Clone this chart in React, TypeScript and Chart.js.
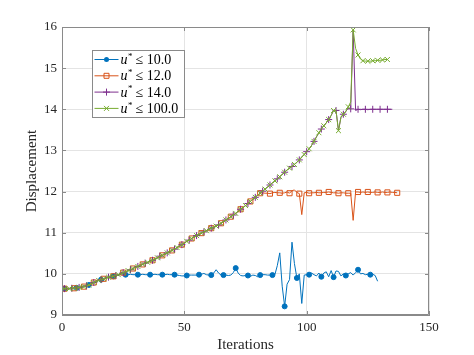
import React, { useEffect, useRef } from 'react';
import { Chart, registerables } from 'chart.js';

Chart.register(...registerables);

// ---- data ----
const xTickValues = [0, 50, 100, 150];
const yTickValues = [9, 10, 11, 12, 13, 14, 15, 16];
const thresholds = ['10.0', '12.0', '14.0', '100.0'];

// shared trajectory, iterations 0..118
const baseValues = [
  9.65, 9.64, 9.64, 9.64, 9.65, 9.65, 9.66, 9.67, 9.68, 9.69,
  9.71, 9.73, 9.76, 9.79, 9.82, 9.84, 9.86, 9.88, 9.90, 9.92,
  9.93, 9.94, 9.96, 9.98, 10.00, 10.03, 10.05, 10.08, 10.10, 10.13,
  10.16, 10.18, 10.21, 10.23, 10.26, 10.28, 10.31, 10.33, 10.36, 10.39,
  10.43, 10.45, 10.48, 10.51, 10.54, 10.57, 10.60, 10.64, 10.67, 10.71,
  10.75, 10.79, 10.82, 10.86, 10.90, 10.93, 10.96, 10.99, 11.02, 11.05,
  11.08, 11.11, 11.13, 11.16, 11.19, 11.23, 11.27, 11.31, 11.35, 11.39,
  11.43, 11.47, 11.52, 11.57, 11.61, 11.66, 11.71, 11.76, 11.81, 11.86,
  11.91, 11.96, 12.01, 12.06, 12.11, 12.16, 12.21, 12.26, 12.31, 12.36,
  12.42, 12.47, 12.53, 12.57, 12.61, 12.66, 12.71, 12.77, 12.84, 12.90,
  12.97, 13.04, 13.12, 13.22, 13.33, 13.43, 13.52, 13.60, 13.67, 13.75,
  13.85, 13.97, 13.97, 13.48, 13.80, 13.88, 13.95, 14.06, 14.18,
];

// u* <= 10.0 after it leaves the shared path, iterations 25..129
const blueTail = [
  10.00, 9.98, 9.98, 9.99, 9.98, 9.98, 9.98, 9.98, 9.99, 9.98,
  9.98, 9.98, 9.98, 9.99, 9.98, 9.98, 9.98, 9.98, 9.99, 9.98,
  9.98, 9.98, 9.97, 9.96, 9.95, 9.95, 9.96, 9.97, 9.97, 9.97,
  9.97, 9.98, 9.99, 10.01, 9.98, 9.97, 9.97, 10.02, 10.10, 10.02,
  9.97, 9.97, 9.97, 9.96, 9.97, 10.03, 10.14, 10.02, 9.96, 9.95,
  9.96, 9.96, 9.94, 9.97, 9.96, 9.93, 9.97, 9.98, 9.98, 9.97,
  9.97, 9.97, 9.98, 10.20, 10.51, 9.70, 9.21, 9.75, 9.86, 10.77,
  10.25, 9.90, 10.00, 9.28, 9.97, 9.98, 9.98, 10.02, 9.98, 9.95,
  10.02, 9.93, 10.02, 10.05, 9.93, 10.08, 9.92, 10.07, 10.06, 9.95,
  10.00, 9.96, 10.00, 10.03, 9.97, 10.03, 10.10, 10.00, 10.01, 9.98,
  9.99, 9.98, 9.99, 9.96, 9.82,
];

// u* <= 12.0, iterations 82..137
const orangeTail = [
  11.97, 11.96, 11.96, 11.95, 11.97, 11.98, 11.97, 11.97, 11.96, 11.97,
  11.99, 11.96, 12.02, 12.04, 11.98, 11.95, 11.44, 11.97, 11.98, 11.96,
  11.97, 11.97, 11.98, 11.97, 11.97, 11.98, 11.98, 11.99, 11.98, 11.97,
  11.97, 11.96, 11.97, 11.97, 11.96, 11.96, 11.96, 11.30, 11.99, 11.99,
  11.98, 11.99, 11.98, 11.99, 11.98, 11.98, 11.99, 11.98, 11.98, 11.99,
  11.98, 11.98, 11.99, 11.98, 11.98, 11.97,
];

// u* <= 14.0, iterations 117..135
const purpleTail = [
  14.03, 14.01, 15.93, 13.97, 14.00, 13.99, 14.00, 14.00, 13.99, 14.00,
  14.00, 14.00, 14.00, 14.00, 14.00, 14.00, 14.00, 14.00, 14.00,
];

// u* <= 100.0, iterations 119..133
const greenTail = [
  15.93, 15.48, 15.32, 15.22, 15.18, 15.17, 15.17, 15.17, 15.18, 15.18,
  15.19, 15.19, 15.20, 15.21, 15.21,
];

const blueValues = [...baseValues.slice(0, 25), ...blueTail];
const orangeValues = [...baseValues.slice(0, 82), ...orangeTail];
const purpleValues = [...baseValues.slice(0, 117), ...purpleTail];
const greenValues = [...baseValues.slice(0, 119), ...greenTail];

const toPoints = (vals: number[]) => vals.map((y, i) => ({ x: i, y }));

const COLORS = ['#0072BD', '#D95319', '#7E2F8E', '#77AC30'];
const SERIF = '"Liberation Serif", "DejaVu Serif", serif';

function drawMarker(ctx: CanvasRenderingContext2D, kind: number, x: number, y: number, color: string) {
  ctx.save();
  ctx.strokeStyle = color;
  ctx.fillStyle = color;
  ctx.lineWidth = 1;
  ctx.beginPath();
  if (kind === 0) {
    ctx.arc(x, y, 2.5, 0, Math.PI * 2);
    ctx.fill();
  } else if (kind === 1) {
    ctx.rect(x - 2.5, y - 2.5, 5, 5);
    ctx.stroke();
  } else if (kind === 2) {
    ctx.moveTo(x - 3.5, y); ctx.lineTo(x + 3.5, y);
    ctx.moveTo(x, y - 3.5); ctx.lineTo(x, y + 3.5);
    ctx.stroke();
  } else {
    ctx.moveTo(x - 2.5, y - 2.5); ctx.lineTo(x + 2.5, y + 2.5);
    ctx.moveTo(x - 2.5, y + 2.5); ctx.lineTo(x + 2.5, y - 2.5);
    ctx.stroke();
  }
  ctx.restore();
}

const framePlugin = {
  id: 'frameAndLegend',
  afterDraw(chart: any) {
    const { ctx, chartArea } = chart;
    const { left, right, top, bottom } = chartArea;
    const xs = chart.scales.x;
    const ys = chart.scales.y;
    ctx.save();
    ctx.strokeStyle = '#8a8a8a';
    ctx.lineWidth = 1;
    ctx.beginPath();
    ctx.rect(left + 0.5, top + 0.5, right - left - 1, bottom - top - 1);
    ctx.stroke();
    ctx.beginPath();
    ys.ticks.forEach((t: any) => {
      const py = Math.round(ys.getPixelForValue(t.value)) + 0.5;
      ctx.moveTo(left, py); ctx.lineTo(left + 4, py);
      ctx.moveTo(right, py); ctx.lineTo(right - 4, py);
    });
    xs.ticks.forEach((t: any) => {
      const px = Math.round(xs.getPixelForValue(t.value)) + 0.5;
      ctx.moveTo(px, bottom); ctx.lineTo(px, bottom - 4);
      ctx.moveTo(px, top); ctx.lineTo(px, top + 4);
    });
    ctx.stroke();

    // legend
    const bx = left + 30.5;
    const by = top + 23.5;
    const bw = 92;
    const bh = 67;
    ctx.fillStyle = '#ffffff';
    ctx.fillRect(bx, by, bw, bh);
    ctx.strokeStyle = '#8a8a8a';
    ctx.strokeRect(bx, by, bw, bh);
    thresholds.forEach((thr, i) => {
      const cy = by + 9 + i * 16.3;
      const color = COLORS[i];
      ctx.strokeStyle = color;
      ctx.lineWidth = 1;
      ctx.beginPath();
      ctx.moveTo(bx + 2, cy);
      ctx.lineTo(bx + 26, cy);
      ctx.stroke();
      drawMarker(ctx, i, bx + 14, cy, color);
      ctx.fillStyle = '#000000';
      ctx.textBaseline = 'middle';
      ctx.textAlign = 'left';
      let tx = bx + 28;
      ctx.font = `italic 14px ${SERIF}`;
      ctx.fillText('u', tx, cy + 1);
      tx += ctx.measureText('u').width + 0.5;
      ctx.font = `9px ${SERIF}`;
      ctx.fillText('*', tx, cy - 3);
      tx += ctx.measureText('*').width + 3;
      ctx.font = `14px ${SERIF}`;
      ctx.fillText('≤ ' + thr, tx, cy + 1);
    });
    ctx.restore();
  },
};

export default function App() {
  const canvasRef = useRef<HTMLCanvasElement | null>(null);

  useEffect(() => {
    const canvas = canvasRef.current;
    if (!canvas) return;
    const mk = (
      label: string,
      vals: number[],
      color: string,
      style: any,
      radius: number,
      every: number,
      filled: boolean,
      order: number,
    ) => ({
      label,
      data: toPoints(vals),
      borderColor: color,
      backgroundColor: filled ? color : 'rgba(0,0,0,0)',
      borderWidth: 1,
      pointStyle: style,
      pointRadius: (c: any) => (c.dataIndex % every === 1 ? radius : 0),
      pointBorderWidth: 1,
      pointBorderColor: color,
      pointBackgroundColor: filled ? color : 'rgba(0,0,0,0)',
      pointHoverRadius: 0,
      tension: 0,
      order,
    });

    const chart = new Chart(canvas, {
      type: 'line',
      data: {
        datasets: [
          mk('u* ≤ 10.0', blueValues, COLORS[0], 'circle', 2.5, 5, true, 3),
          mk('u* ≤ 12.0', orangeValues, COLORS[1], 'rect', 3.6, 4, false, 2),
          mk('u* ≤ 14.0', purpleValues, COLORS[2], 'cross', 3.5, 3, false, 1),
          mk('u* ≤ 100.0', greenValues, COLORS[3], 'crossRot', 3.5, 2, false, 0),
        ] as any,
      },
      options: {
        responsive: false,
        animation: false,
        devicePixelRatio: 1,
        layout: { padding: { left: 0, top: 27, right: 45, bottom: 0 } },
        plugins: {
          legend: { display: false },
          tooltip: { enabled: false },
        },
        scales: {
          x: {
            type: 'linear',
            min: 0,
            max: 150,
            afterBuildTicks: (s: any) => {
              s.ticks = xTickValues.map((v) => ({ value: v }));
            },
            afterFit: (s: any) => {
              s.height = 40;
            },
            grid: { color: '#e4e4e4', drawTicks: false },
            border: { color: '#8a8a8a' },
            ticks: {
              color: '#262626',
              font: { family: SERIF, size: 13 },
              padding: 5,
              maxRotation: 0,
            },
            title: {
              display: true,
              text: 'Iterations',
              color: '#262626',
              font: { family: SERIF, size: 15 },
              padding: { top: 0, bottom: 1 },
            },
          },
          y: {
            type: 'linear',
            min: 9,
            max: 16,
            afterBuildTicks: (s: any) => {
              s.ticks = yTickValues.map((v) => ({ value: v }));
            },
            afterFit: (s: any) => {
              s.width = 62;
            },
            grid: { color: '#e4e4e4', drawTicks: false },
            border: { color: '#8a8a8a' },
            ticks: {
              color: '#262626',
              font: { family: SERIF, size: 13 },
              padding: 5,
            },
            title: {
              display: true,
              text: 'Displacement',
              color: '#262626',
              font: { family: SERIF, size: 15 },
              padding: { top: 23, bottom: 0 },
            },
          },
        },
      },
      plugins: [framePlugin],
    });
    return () => chart.destroy();
  }, []);

  return (
    <div style={{ position: 'absolute', left: 0, top: 0, width: 474, height: 355, background: '#ffffff' }}>
      <canvas ref={canvasRef} width={474} height={355} />
    </div>
  );
}
